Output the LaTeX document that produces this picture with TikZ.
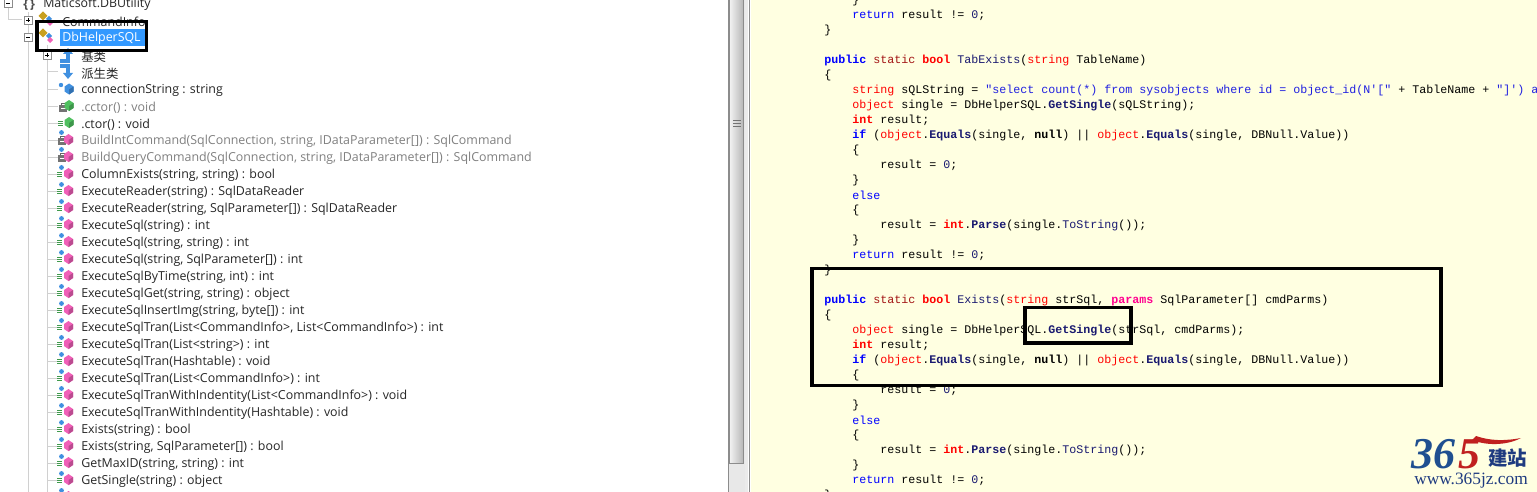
\documentclass[tikz,border=0pt]{standalone}
\usepackage{fontspec}
\setmainfont{Open Sans}
\newfontfamily\codefont{Liberation Mono}
\newfontfamily\cjkfont{Noto Sans CJK SC}
\newfontfamily\logofont{Liberation Serif}
\definecolor{codebg}{HTML}{FFFFE1}
\definecolor{kwblue}{HTML}{0000FF}
\definecolor{tyred}{HTML}{FF0000}
\definecolor{stbrown}{HTML}{A31515}
\definecolor{mename}{HTML}{191970}
\definecolor{paramspink}{HTML}{FF0090}
\definecolor{strblue}{HTML}{2020E0}
\definecolor{graytext}{HTML}{808080}
\definecolor{selblue}{HTML}{3399FF}
\definecolor{treeline}{HTML}{D0D0D0}
\definecolor{iconpink}{HTML}{F060B8}
\definecolor{icongreen}{HTML}{50C060}
\definecolor{iconblue}{HTML}{4090E0}
\definecolor{icongold}{HTML}{C8A020}
\definecolor{logoblue}{HTML}{1F4F90}
\definecolor{logored}{HTML}{C02020}
\definecolor{logonavy}{HTML}{1F3B80}
\newcommand{\kw}[1]{\textcolor{kwblue}{#1}}
\newcommand{\ty}[1]{\textcolor{tyred}{#1}}
\newcommand{\st}[1]{\textcolor{stbrown}{#1}}
\newcommand{\me}[1]{\textcolor{mename}{#1}}
\newcommand{\pa}[1]{\textcolor{paramspink}{#1}}
\newcommand{\sr}[1]{\textcolor{strblue}{#1}}
\newcommand{\bo}[1]{\textbf{#1}}
\tikzset{
  code/.style={anchor=west,inner sep=0pt,yshift=-0.9pt,font=\codefont\fontsize{8.75pt}{10pt}\selectfont,text=black},
  member/.style={anchor=west,inner sep=0pt,yshift=-1.2pt,font=\fontsize{9.3pt}{10pt}\selectfont,text=black!85},
  hidden/.style={member,text=graytext},
  mark box/.style={draw=black,line width=2.6pt},
  tree line/.style={draw=treeline,line width=0.75pt},
  logo text/.style={anchor=base west,inner sep=0pt,text depth=0pt}
}
\newcommand{\cubeicon}[3]{%
  \fill[#3] (#1,#2-5.5) -- (#1+4.5,#2-2.5) -- (#1+4.5,#2+2.5) -- (#1,#2+5.5) -- (#1-4.5,#2+2.5) -- (#1-4.5,#2-2.5) -- cycle;
  \fill[#3!78!black] (#1,#2+0.5) -- (#1+4.5,#2-2.5) -- (#1+4.5,#2+2.5) -- (#1,#2+5.5) -- cycle;
}
\newcommand{\lockicon}[2]{%
  \draw[black!60,line width=0.6pt] (#1-2,#2-1) -- (#1-2,#2-3) -- (#1+2,#2-3) -- (#1+2,#2-1);
  \fill[black!55] (#1-4,#2-1) rectangle (#1+4,#2+6);
  \fill[white] (#1-2.5,#2+1.5) rectangle (#1+2.5,#2+3);
}
\newcommand{\linesicon}[2]{%
  \draw[icongreen!80!black,line width=0.5pt] (#1,#2-2) -- (#1+5,#2-2) (#1,#2) -- (#1+5,#2) (#1,#2+2) -- (#1+5,#2+2);
}
\newcommand{\methodicon}[2]{%
  \fill[iconblue] (#1-4.5,#2-6.5) circle (2.4);
  \linesicon{#1-9}{#2+0.5}
  \cubeicon{#1+2.5}{#2-0.5}{iconpink}
}
\newcommand{\buildicon}[2]{%
  \fill[iconblue] (#1-4.5,#2-7.5) circle (2.4);
  \lockicon{#1-4}{#2-1}
  \cubeicon{#1+2.5}{#2-0.5}{iconpink}
}
\newcommand{\classicon}[2]{%
  \fill[icongold] (#1,#2-4.5) -- (#1+4.5,#2) -- (#1,#2+4.5) -- (#1-4.5,#2) -- cycle;
  \fill[iconblue] (#1+6,#2) -- (#1+9,#2+3) -- (#1+6,#2+6) -- (#1+3,#2+3) -- cycle;
  \fill[iconpink] (#1+7,#2+4) -- (#1+10,#2+7) -- (#1+7,#2+10) -- (#1+4,#2+7) -- cycle;
}
\begin{document}
\begin{tikzpicture}[x=0.75pt,y=-0.75pt]
\useasboundingbox (0,0) rectangle (1537,492);
\fill[white] (0,0) rectangle (728,492);
\fill[codebg] (751,0) rectangle (1537,492);
\fill[black!9] (729,0) rectangle (745,492);
\shade[left color=black!4,right color=black!28] (729,0) rectangle (743,463);
\draw[black!45,line width=0.6pt] (729,-2) rectangle (743,463);
\fill[black!8] (745,0) rectangle (748,492);
\draw[black!45,line width=0.75pt] (728.5,0) -- (728.5,492) (749.5,0) -- (749.5,492);
\draw[black!55,line width=0.7pt] (733,120) -- (741,120) (733,123) -- (741,123) (733,126) -- (741,126);
% tree lines
\draw[tree line] (28,12) -- (28,492) (47,45) -- (47,492);
\draw[tree line] (8,8) -- (8,20) -- (22,20);
\foreach \yy in {72,89,106,123,140,157,174,191,208,225,242,259,276,293,310,327,344,361,378,395,412,429,446,463,480}
  \draw[tree line] (47,\yy) -- (58,\yy);
\foreach \xx/\yy/\sign in {8/3/0,28/20/1,28/37/0,47/55/1}{
  \fill[white] (\xx-4,\yy-4) rectangle (\xx+4,\yy+4);
  \draw[black!45,line width=0.5pt] (\xx-4,\yy-4) rectangle (\xx+4,\yy+4);
  \draw[black,line width=0.5pt] (\xx-2,\yy) -- (\xx+2,\yy);
  \ifnum\sign=1 \draw[black,line width=0.5pt] (\xx,\yy-2) -- (\xx,\yy+2); \fi
}
% tree text
\node[member,text=black!70] (t0) at (23,3) {\bfseries\{\,\}};
\node[member] (t1) at (43,3) {Maticsoft.DBUtility};
\node[member] (t2) at (62,20) {CommandInfo};
\fill[selblue] (60,29) rectangle (146,46);
\node[member,text=white] (t3) at (62,37) {DbHelperSQL};
\node[member] (t4) at (81,55) {\cjkfont 基类};
\node[member] (t5) at (81,72) {\cjkfont 派生类};
\node[member] (t6) at (81,89) {connectionString : string};
\node[hidden] (t7) at (81,106) {.cctor() : void};
\node[member] (t8) at (81,123) {.ctor() : void};
\node[hidden] (t9) at (81,140) {BuildIntCommand(SqlConnection, string, IDataParameter[]) : SqlCommand};
\node[hidden] (t10) at (81,157) {BuildQueryCommand(SqlConnection, string, IDataParameter[]) : SqlCommand};
\foreach \yy/\txt [count=\i from 11] in {
  174/ColumnExists(string{,} string) : bool,
  191/ExecuteReader(string) : SqlDataReader,
  208/ExecuteReader(string{,} SqlParameter[]) : SqlDataReader,
  225/ExecuteSql(string) : int,
  242/ExecuteSql(string{,} string) : int,
  259/ExecuteSql(string{,} SqlParameter[]) : int,
  276/ExecuteSqlByTime(string{,} int) : int,
  293/ExecuteSqlGet(string{,} string) : object,
  310/ExecuteSqlInsertImg(string{,} byte[]) : int,
  327/ExecuteSqlTran(List<CommandInfo>{,} List<CommandInfo>) : int,
  344/ExecuteSqlTran(List<string>) : int,
  361/ExecuteSqlTran(Hashtable) : void,
  378/ExecuteSqlTran(List<CommandInfo>) : int,
  395/ExecuteSqlTranWithIndentity(List<CommandInfo>) : void,
  412/ExecuteSqlTranWithIndentity(Hashtable) : void,
  429/Exists(string) : bool,
  446/Exists(string{,} SqlParameter[]) : bool,
  463/GetMaxID(string{,} string) : int,
  480/GetSingle(string) : object}{
  \node[member] (t\i) at (81,\yy) {\txt};
  \methodicon{66}{\yy}
}
\methodicon{66}{497}
\buildicon{66}{140}
\buildicon{66}{157}
% other tree icons
\lockicon{63}{106}
\cubeicon{69}{105.5}{icongreen}
\linesicon{58}{123}
\cubeicon{69}{122.5}{icongreen}
\fill[iconblue] (61,85) circle (2.2);
\cubeicon{69}{89}{iconblue}
\draw[iconblue,line width=2.4pt] (60,66) -- (68,66) -- (68,73);
\fill[iconblue] (63,73) -- (73,73) -- (68,79) -- cycle;
\draw[iconblue,line width=2.4pt] (60,61) -- (68,61) -- (68,54);
\fill[iconblue] (63,54) -- (73,54) -- (68,48) -- cycle;
\classicon{43}{16}
\classicon{43}{33}
% code
\node[code] (c0) at (852,-1) {\}};
\node[code] (c1) at (852,14) {\kw{return} result != \me{0};};
\node[code] (c2) at (824,29) {\}};
\node[code] (c3) at (824,59) {\kw{\bo{public}} \st{static} \ty{\bo{bool}} \me{TabExists}(\ty{string} TableName)};
\node[code] (c4) at (824,74) {\{};
\node[code] (c5) at (852,89) {\ty{string} sQLString = \sr{"select count(*) from sysobjects where id = object\_id(N'["} + TableName + \sr{"]') a}};
\node[code] (c6) at (852,104) {\ty{object} single = DbHelperSQL.\me{\bo{GetSingle}}(sQLString);};
\node[code] (c7) at (852,119) {\ty{\bo{int}} result;};
\node[code] (c8) at (852,134) {\kw{\bo{if}} (\ty{object}.\me{\bo{Equals}}(single, \bo{null}) || \ty{object}.\me{\bo{Equals}}(single, DBNull.Value))};
\node[code] (c9) at (852,149) {\{};
\node[code] (c10) at (880,164) {result = \me{0};};
\node[code] (c11) at (852,179) {\}};
\node[code] (c12) at (852,194) {\kw{else}};
\node[code] (c13) at (852,209) {\{};
\node[code] (c14) at (880,224) {result = \ty{\bo{int}}.\me{\bo{Parse}}(single.\me{ToString}());};
\node[code] (c15) at (852,239) {\}};
\node[code] (c16) at (852,254) {\kw{return} result != \me{0};};
\node[code] (c17) at (824,269) {\}};
\node[code] (c18) at (824,299) {\kw{\bo{public}} \st{static} \ty{\bo{bool}} \me{Exists}(\ty{string} strSql, \pa{\bo{params}} SqlParameter[] cmdParms)};
\node[code] (c19) at (824,314) {\{};
\node[code] (c20) at (852,329) {\ty{object} single = DbHelperSQL.\me{\bo{GetSingle}}(strSql, cmdParms);};
\node[code] (c21) at (852,344) {\ty{\bo{int}} result;};
\node[code] (c22) at (852,359) {\kw{\bo{if}} (\ty{object}.\me{\bo{Equals}}(single, \bo{null}) || \ty{object}.\me{\bo{Equals}}(single, DBNull.Value))};
\node[code] (c23) at (852,374) {\{};
\node[code] (c24) at (880,389) {result = \me{0};};
\node[code] (c25) at (852,404) {\}};
\node[code] (c26) at (852,419) {\kw{else}};
\node[code] (c27) at (852,434) {\{};
\node[code] (c28) at (880,449) {result = \ty{\bo{int}}.\me{\bo{Parse}}(single.\me{ToString}());};
\node[code] (c29) at (852,464) {\}};
\node[code] (c30) at (852,479) {\kw{return} result != \me{0};};
\node[code] (c31) at (824,494) {\}};
% marks
\draw[mark box] (37,21.5) rectangle (146.5,50.5);
\draw[mark box] (812,268.5) rectangle (1441,385.5);
\draw[mark box] (1025,307.5) rectangle (1131,343);
% logo
\node[logo text,font=\logofont\bfseries\itshape\fontsize{33pt}{33pt}\selectfont,text=logoblue] (l1) at (1411,468) {36};
\node[logo text,font=\logofont\bfseries\itshape\fontsize{33pt}{33pt}\selectfont,text=logored] (l2) at (1458,468) {5};
\fill[logored] (1472,440) .. controls (1490,447) and (1510,444) .. (1521,438) .. controls (1505,441) and (1490,441) .. (1476,436) -- cycle;
\node[logo text,font=\cjkfont\bfseries\fontsize{14.6pt}{15pt}\selectfont,text=logonavy] (l3) at (1488,465) {建站};
\node[logo text,font=\logofont\fontsize{13pt}{14pt}\selectfont,text=logonavy] (l4) at (1414,484) {www.365jz.com};
\end{tikzpicture}
\end{document}
